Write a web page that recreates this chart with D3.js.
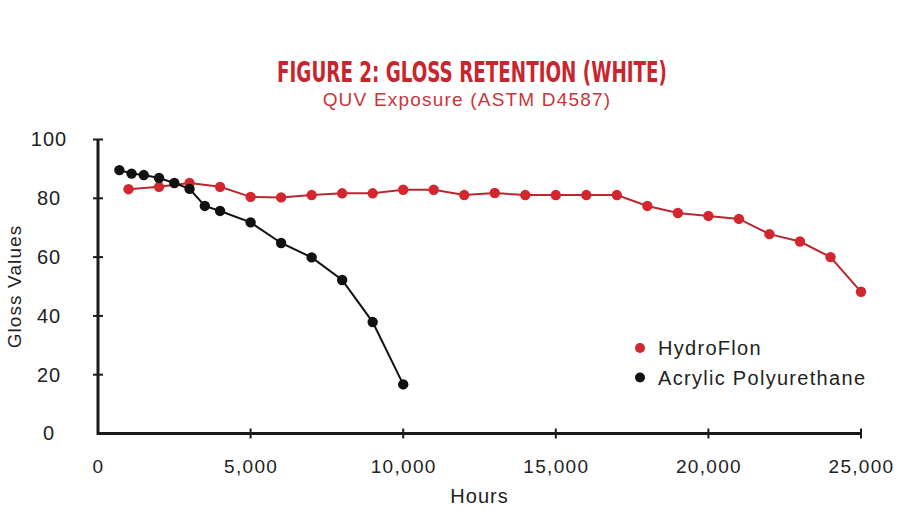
<!DOCTYPE html>
<html lang="en">
<head>
    <meta charset="UTF-8">
    <title>Gloss Retention (White)</title>
    <script src="https://d3js.org/d3.v7.min.js"></script>
    <style>
        body { margin: 0; background: #fff; }
        svg text { font-family: "Liberation Sans", Arial, sans-serif; }
    </style>
</head>
<body>
    <div id="chart"></div>

    <script>
        // Hours / gloss readings for each coating
        const hydroHours = [1000, 2000, 3000, 4000, 5000, 6000, 7000, 8000, 9000, 10000, 11000, 12000, 13000,
                            14000, 15000, 16000, 17000, 18000, 19000, 20000, 21000, 22000, 23000, 24000, 25000];
        const hydroGloss = [83.1, 83.9, 85.2, 83.9, 80.5, 80.3, 81.1, 81.7, 81.7, 82.9, 82.9, 81.1, 81.8,
                            81.1, 81.1, 81.1, 81.1, 77.4, 75.0, 74.0, 73.0, 67.8, 65.3, 60.0, 48.2];

        const acrylicHours = [700, 1100, 1500, 2000, 2500, 3000, 3500, 4000, 5000, 6000, 7000, 8000, 9000, 10000];
        const acrylicGloss = [89.6, 88.4, 87.9, 86.9, 85.2, 83.2, 77.4, 75.7, 71.8, 64.8, 59.9, 52.2, 37.9, 16.7];

        const xTicks = [0, 5000, 10000, 15000, 20000, 25000];
        const yTicks = [0, 20, 40, 60, 80, 100];

        const seriesNames = ["HydroFlon", "Acrylic Polyurethane"];

        const width = 903, height = 515;
        const margin = { top: 139.5, right: 42, bottom: 81.5, left: 98 };

        const svg = d3.select("#chart")
                      .append("svg")
                      .attr("width", width)
                      .attr("height", height);

        const x = d3.scaleLinear()
                    .domain([0, 25000])
                    .range([margin.left, width - margin.right]);

        const y = d3.scaleLinear()
                    .domain([0, 100])
                    .range([height - margin.bottom, margin.top]);

        // Title + subtitle
        svg.append("text")
           .attr("x", 472)
           .attr("y", 82)
           .attr("text-anchor", "middle")
           .attr("textLength", 390)
           .attr("lengthAdjust", "spacingAndGlyphs")
           .style("font-family", "'Liberation Sans Narrow', 'DejaVu Sans Condensed', 'Liberation Sans', sans-serif")
           .style("font-weight", "bold")
           .style("font-size", "29px")
           .style("fill", "#c8252d")
           .text("FIGURE 2: GLOSS RETENTION (WHITE)");

        svg.append("text")
           .attr("x", 467)
           .attr("y", 106)
           .attr("text-anchor", "middle")
           .style("font-size", "19px")
           .style("letter-spacing", "1.2px")
           .style("fill", "#c6373c")
           .text("QUV Exposure (ASTM D4587)");

        // Axes
        const xAxis = d3.axisBottom(x).tickValues(xTicks).tickSize(0).tickFormat(d3.format(","));
        const yAxis = d3.axisLeft(y).tickValues(yTicks).tickSize(0);

        const gx = svg.append("g")
                      .attr("transform", `translate(0, ${y(0)})`)
                      .call(xAxis);
        gx.select(".domain").remove();
        gx.selectAll("text")
          .attr("y", 33)
          .attr("dy", "0.35em")
          .style("font-size", "19px")
          .style("letter-spacing", "1.3px")
          .style("fill", "#222");

        const gy = svg.append("g")
                      .attr("transform", `translate(${x(0)}, 0)`)
                      .call(yAxis);
        gy.select(".domain").remove();
        gy.selectAll("text")
          .attr("x", -49)
          .attr("text-anchor", "middle")
          .style("font-size", "20px")
          .style("letter-spacing", "1px")
          .style("fill", "#222");

        // axis lines and cross ticks
        svg.append("path")
           .attr("d", `M${x(0)},${y(100)}V${y(0)}H${x(25000)}`)
           .attr("fill", "none")
           .attr("stroke", "#1a1a1a")
           .attr("stroke-width", 3);

        svg.selectAll(".xtick")
           .data(xTicks.slice(1))
           .enter()
           .append("line")
           .attr("x1", d => x(d)).attr("x2", d => x(d))
           .attr("y1", y(0) - 5).attr("y2", y(0) + 5)
           .attr("stroke", "#1a1a1a")
           .attr("stroke-width", 2);

        svg.selectAll(".ytick")
           .data(yTicks.slice(1))
           .enter()
           .append("line")
           .attr("x1", x(0) - 5).attr("x2", x(0) + 5)
           .attr("y1", d => y(d)).attr("y2", d => y(d))
           .attr("stroke", "#1a1a1a")
           .attr("stroke-width", 2);

        // Axis titles
        svg.append("text")
           .attr("x", (x(0) + x(25000)) / 2)
           .attr("y", 503)
           .attr("text-anchor", "middle")
           .style("font-size", "20px")
           .style("letter-spacing", "1px")
           .style("fill", "#222")
           .text("Hours");

        svg.append("text")
           .attr("transform", `translate(21, ${(y(0) + y(100)) / 2}) rotate(-90)`)
           .attr("text-anchor", "middle")
           .style("font-size", "19px")
           .style("letter-spacing", "1.1px")
           .style("fill", "#222")
           .text("Gloss Values");

        // Series
        const hydro = hydroHours.map((h, i) => ({ h: h, v: hydroGloss[i] }));
        const acrylic = acrylicHours.map((h, i) => ({ h: h, v: acrylicGloss[i] }));

        const line = d3.line().x(d => x(d.h)).y(d => y(d.v));

        const series = [
            { data: hydro, line: "#b9282f", dot: "#d4262f" },
            { data: acrylic, line: "#111", dot: "#111" }
        ];

        series.forEach(s => {
            svg.append("path")
               .datum(s.data)
               .attr("d", line)
               .attr("fill", "none")
               .attr("stroke", s.line)
               .attr("stroke-width", 2);

            svg.append("g")
               .selectAll("circle")
               .data(s.data)
               .enter()
               .append("circle")
               .attr("cx", d => x(d.h))
               .attr("cy", d => y(d.v))
               .attr("r", 5.2)
               .attr("fill", s.dot);
        });

        // Legend
        const legend = svg.append("g").attr("transform", "translate(640, 348)");
        legend.selectAll("circle")
              .data(seriesNames)
              .enter()
              .append("circle")
              .attr("cx", 0)
              .attr("cy", (d, i) => i * 29.5)
              .attr("r", 5)
              .attr("fill", (d, i) => i === 0 ? "#d4262f" : "#111");
        legend.selectAll("text")
              .data(seriesNames)
              .enter()
              .append("text")
              .attr("x", 18)
              .attr("y", (d, i) => i * 29.5)
              .attr("dy", "0.35em")
              .style("font-size", "20px")
              .style("letter-spacing", "1.3px")
              .style("fill", "#222")
              .text(d => d);
    </script>
</body>
</html>
